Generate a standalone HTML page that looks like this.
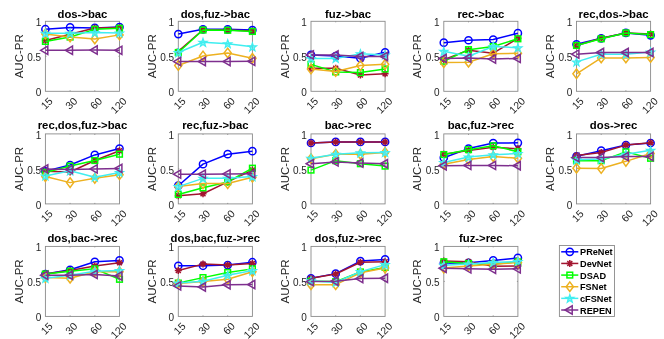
<!DOCTYPE html><html><head><meta charset="utf-8"><style>html,body{margin:0;padding:0;background:#fff;width:664px;height:339px;overflow:hidden}svg{display:block;will-change:transform}text{font-family:"Liberation Sans",sans-serif}</style></head><body><svg width="664" height="339" viewBox="0 0 664 339"><g><rect x="45.4" y="21.3" width="74.1" height="70" fill="none" stroke="#8a8a8a" stroke-width="0.9"/><path d="M70.1 91.3v-1M70.1 21.3v1M94.8 91.3v-1M94.8 21.3v1M45.4 56.3h1M119.5 56.3h-1" stroke="#8a8a8a" stroke-width="0.9"/><text x="82.45" y="17.9" font-size="11.3" font-weight="bold" text-anchor="middle" fill="#000">dos-&gt;bac</text><text transform="translate(22.9 56.3) rotate(-90)" font-size="11.5" text-anchor="middle" fill="#262626">AUC-PR</text><text x="41.2" y="96.2" font-size="10" text-anchor="end" fill="#262626">0</text><text x="41.2" y="61.2" font-size="10" text-anchor="end" fill="#262626">0.5</text><text x="41.2" y="26.2" font-size="10" text-anchor="end" fill="#262626">1</text><text transform="translate(53.4 101.8) rotate(-45)" font-size="10.5" text-anchor="end" fill="#262626">15</text><text transform="translate(78.1 101.8) rotate(-45)" font-size="10.5" text-anchor="end" fill="#262626">30</text><text transform="translate(102.8 101.8) rotate(-45)" font-size="10.5" text-anchor="end" fill="#262626">60</text><text transform="translate(127.5 101.8) rotate(-45)" font-size="10.5" text-anchor="end" fill="#262626">120</text><polyline points="45.4,29.21 70.1,27.39 94.8,27.88 119.5,27.11" fill="none" stroke="#0000ff" stroke-width="1.5" stroke-linejoin="round"/><circle cx="45.4" cy="29.21" r="3.6" fill="none" stroke="#0000ff" stroke-width="1.5"/><circle cx="70.1" cy="27.39" r="3.6" fill="none" stroke="#0000ff" stroke-width="1.5"/><circle cx="94.8" cy="27.88" r="3.6" fill="none" stroke="#0000ff" stroke-width="1.5"/><circle cx="119.5" cy="27.11" r="3.6" fill="none" stroke="#0000ff" stroke-width="1.5"/><polyline points="45.4,40.55 70.1,34.25 94.8,27.95 119.5,27.39" fill="none" stroke="#a2142f" stroke-width="1.5" stroke-linejoin="round"/><path d="M45.4 37.05V44.05M41.9 40.55H48.9M42.93 38.08L47.87 43.02M42.93 43.02L47.87 38.08" stroke="#a2142f" stroke-width="1.5" fill="none"/><path d="M70.1 30.75V37.75M66.6 34.25H73.6M67.63 31.78L72.57 36.72M67.63 36.72L72.57 31.78" stroke="#a2142f" stroke-width="1.5" fill="none"/><path d="M94.8 24.45V31.45M91.3 27.95H98.3M92.33 25.48L97.27 30.42M92.33 30.42L97.27 25.48" stroke="#a2142f" stroke-width="1.5" fill="none"/><path d="M119.5 23.89V30.89M116 27.39H123M117.03 24.92L121.97 29.86M117.03 29.86L121.97 24.92" stroke="#a2142f" stroke-width="1.5" fill="none"/><polyline points="45.4,41.39 70.1,37.05 94.8,29.35 119.5,28.3" fill="none" stroke="#00ff00" stroke-width="1.5" stroke-linejoin="round"/><rect x="42.55" y="38.54" width="5.7" height="5.7" fill="none" stroke="#00ff00" stroke-width="1.5"/><rect x="67.25" y="34.2" width="5.7" height="5.7" fill="none" stroke="#00ff00" stroke-width="1.5"/><rect x="91.95" y="26.5" width="5.7" height="5.7" fill="none" stroke="#00ff00" stroke-width="1.5"/><rect x="116.65" y="25.45" width="5.7" height="5.7" fill="none" stroke="#00ff00" stroke-width="1.5"/><polyline points="45.4,33.9 70.1,36.98 94.8,38.94 119.5,34.88" fill="none" stroke="#edb120" stroke-width="1.5" stroke-linejoin="round"/><path d="M45.4 29.1L49 33.9L45.4 38.7L41.8 33.9Z" fill="none" stroke="#edb120" stroke-width="1.5"/><path d="M70.1 32.18L73.7 36.98L70.1 41.78L66.5 36.98Z" fill="none" stroke="#edb120" stroke-width="1.5"/><path d="M94.8 34.14L98.4 38.94L94.8 43.74L91.2 38.94Z" fill="none" stroke="#edb120" stroke-width="1.5"/><path d="M119.5 30.08L123.1 34.88L119.5 39.68L115.9 34.88Z" fill="none" stroke="#edb120" stroke-width="1.5"/><polyline points="45.4,33.27 70.1,33.27 94.8,32.57 119.5,32.92" fill="none" stroke="#40eef0" stroke-width="1.5" stroke-linejoin="round"/><path d="M45.4 29.37L46.41 32.28L49.49 32.34L47.04 34.2L47.93 37.15L45.4 35.39L42.87 37.15L43.76 34.2L41.31 32.34L44.39 32.28Z" fill="#40eef0" fill-opacity="0.6" stroke="#40eef0" stroke-width="1.2" stroke-linejoin="miter"/><path d="M70.1 29.37L71.11 32.28L74.19 32.34L71.74 34.2L72.63 37.15L70.1 35.39L67.57 37.15L68.46 34.2L66.01 32.34L69.09 32.28Z" fill="#40eef0" fill-opacity="0.6" stroke="#40eef0" stroke-width="1.2" stroke-linejoin="miter"/><path d="M94.8 28.67L95.81 31.58L98.89 31.64L96.44 33.5L97.33 36.45L94.8 34.69L92.27 36.45L93.16 33.5L90.71 31.64L93.79 31.58Z" fill="#40eef0" fill-opacity="0.6" stroke="#40eef0" stroke-width="1.2" stroke-linejoin="miter"/><path d="M119.5 29.02L120.51 31.93L123.59 31.99L121.14 33.85L122.03 36.8L119.5 35.04L116.97 36.8L117.86 33.85L115.41 31.99L118.49 31.93Z" fill="#40eef0" fill-opacity="0.6" stroke="#40eef0" stroke-width="1.2" stroke-linejoin="miter"/><polyline points="45.4,50.28 70.1,50.28 94.8,50.07 119.5,50.35" fill="none" stroke="#7e2f8e" stroke-width="1.5" stroke-linejoin="round"/><path d="M40.6 50.28L47.8 46.12L47.8 54.44Z" fill="none" stroke="#7e2f8e" stroke-width="1.5"/><path d="M65.3 50.28L72.5 46.12L72.5 54.44Z" fill="none" stroke="#7e2f8e" stroke-width="1.5"/><path d="M90 50.07L97.2 45.91L97.2 54.23Z" fill="none" stroke="#7e2f8e" stroke-width="1.5"/><path d="M114.7 50.35L121.9 46.19L121.9 54.51Z" fill="none" stroke="#7e2f8e" stroke-width="1.5"/></g><g><rect x="178.3" y="21.3" width="74.1" height="70" fill="none" stroke="#8a8a8a" stroke-width="0.9"/><path d="M203 91.3v-1M203 21.3v1M227.7 91.3v-1M227.7 21.3v1M178.3 56.3h1M252.4 56.3h-1" stroke="#8a8a8a" stroke-width="0.9"/><text x="215.35" y="17.9" font-size="11.3" font-weight="bold" text-anchor="middle" fill="#000">dos,fuz-&gt;bac</text><text transform="translate(155.8 56.3) rotate(-90)" font-size="11.5" text-anchor="middle" fill="#262626">AUC-PR</text><text x="174.1" y="96.2" font-size="10" text-anchor="end" fill="#262626">0</text><text x="174.1" y="61.2" font-size="10" text-anchor="end" fill="#262626">0.5</text><text x="174.1" y="26.2" font-size="10" text-anchor="end" fill="#262626">1</text><text transform="translate(186.3 101.8) rotate(-45)" font-size="10.5" text-anchor="end" fill="#262626">15</text><text transform="translate(211 101.8) rotate(-45)" font-size="10.5" text-anchor="end" fill="#262626">30</text><text transform="translate(235.7 101.8) rotate(-45)" font-size="10.5" text-anchor="end" fill="#262626">60</text><text transform="translate(260.4 101.8) rotate(-45)" font-size="10.5" text-anchor="end" fill="#262626">120</text><polyline points="178.3,34.11 203,29.35 227.7,29.35 252.4,30.05" fill="none" stroke="#0000ff" stroke-width="1.5" stroke-linejoin="round"/><circle cx="178.3" cy="34.11" r="3.6" fill="none" stroke="#0000ff" stroke-width="1.5"/><circle cx="203" cy="29.35" r="3.6" fill="none" stroke="#0000ff" stroke-width="1.5"/><circle cx="227.7" cy="29.35" r="3.6" fill="none" stroke="#0000ff" stroke-width="1.5"/><circle cx="252.4" cy="30.05" r="3.6" fill="none" stroke="#0000ff" stroke-width="1.5"/><polyline points="178.3,51.4 203,29.7 227.7,30.05 252.4,30.96" fill="none" stroke="#a2142f" stroke-width="1.5" stroke-linejoin="round"/><path d="M178.3 47.9V54.9M174.8 51.4H181.8M175.83 48.93L180.77 53.87M175.83 53.87L180.77 48.93" stroke="#a2142f" stroke-width="1.5" fill="none"/><path d="M203 26.2V33.2M199.5 29.7H206.5M200.53 27.23L205.47 32.17M200.53 32.17L205.47 27.23" stroke="#a2142f" stroke-width="1.5" fill="none"/><path d="M227.7 26.55V33.55M224.2 30.05H231.2M225.23 27.58L230.17 32.52M225.23 32.52L230.17 27.58" stroke="#a2142f" stroke-width="1.5" fill="none"/><path d="M252.4 27.46V34.46M248.9 30.96H255.9M249.93 28.49L254.87 33.43M249.93 33.43L254.87 28.49" stroke="#a2142f" stroke-width="1.5" fill="none"/><polyline points="178.3,52.52 203,30.05 227.7,30.26 252.4,31.45" fill="none" stroke="#00ff00" stroke-width="1.5" stroke-linejoin="round"/><rect x="175.45" y="49.67" width="5.7" height="5.7" fill="none" stroke="#00ff00" stroke-width="1.5"/><rect x="200.15" y="27.2" width="5.7" height="5.7" fill="none" stroke="#00ff00" stroke-width="1.5"/><rect x="224.85" y="27.41" width="5.7" height="5.7" fill="none" stroke="#00ff00" stroke-width="1.5"/><rect x="249.55" y="28.6" width="5.7" height="5.7" fill="none" stroke="#00ff00" stroke-width="1.5"/><polyline points="178.3,65.54 203,55.95 227.7,52.94 252.4,58.26" fill="none" stroke="#edb120" stroke-width="1.5" stroke-linejoin="round"/><path d="M178.3 60.74L181.9 65.54L178.3 70.34L174.7 65.54Z" fill="none" stroke="#edb120" stroke-width="1.5"/><path d="M203 51.15L206.6 55.95L203 60.75L199.4 55.95Z" fill="none" stroke="#edb120" stroke-width="1.5"/><path d="M227.7 48.14L231.3 52.94L227.7 57.74L224.1 52.94Z" fill="none" stroke="#edb120" stroke-width="1.5"/><path d="M252.4 53.46L256 58.26L252.4 63.06L248.8 58.26Z" fill="none" stroke="#edb120" stroke-width="1.5"/><polyline points="178.3,52.52 203,42.3 227.7,43.7 252.4,46.85" fill="none" stroke="#40eef0" stroke-width="1.5" stroke-linejoin="round"/><path d="M178.3 48.62L179.31 51.53L182.39 51.59L179.94 53.45L180.83 56.4L178.3 54.64L175.77 56.4L176.66 53.45L174.21 51.59L177.29 51.53Z" fill="#40eef0" fill-opacity="0.6" stroke="#40eef0" stroke-width="1.2" stroke-linejoin="miter"/><path d="M203 38.4L204.01 41.31L207.09 41.37L204.64 43.23L205.53 46.18L203 44.42L200.47 46.18L201.36 43.23L198.91 41.37L201.99 41.31Z" fill="#40eef0" fill-opacity="0.6" stroke="#40eef0" stroke-width="1.2" stroke-linejoin="miter"/><path d="M227.7 39.8L228.71 42.71L231.79 42.77L229.34 44.63L230.23 47.58L227.7 45.82L225.17 47.58L226.06 44.63L223.61 42.77L226.69 42.71Z" fill="#40eef0" fill-opacity="0.6" stroke="#40eef0" stroke-width="1.2" stroke-linejoin="miter"/><path d="M252.4 42.95L253.41 45.86L256.49 45.92L254.04 47.78L254.93 50.73L252.4 48.97L249.87 50.73L250.76 47.78L248.31 45.92L251.39 45.86Z" fill="#40eef0" fill-opacity="0.6" stroke="#40eef0" stroke-width="1.2" stroke-linejoin="miter"/><polyline points="178.3,61.55 203,61.55 227.7,61.55 252.4,61.34" fill="none" stroke="#7e2f8e" stroke-width="1.5" stroke-linejoin="round"/><path d="M173.5 61.55L180.7 57.39L180.7 65.71Z" fill="none" stroke="#7e2f8e" stroke-width="1.5"/><path d="M198.2 61.55L205.4 57.39L205.4 65.71Z" fill="none" stroke="#7e2f8e" stroke-width="1.5"/><path d="M222.9 61.55L230.1 57.39L230.1 65.71Z" fill="none" stroke="#7e2f8e" stroke-width="1.5"/><path d="M247.6 61.34L254.8 57.18L254.8 65.5Z" fill="none" stroke="#7e2f8e" stroke-width="1.5"/></g><g><rect x="311" y="21.3" width="74.1" height="70" fill="none" stroke="#8a8a8a" stroke-width="0.9"/><path d="M335.7 91.3v-1M335.7 21.3v1M360.4 91.3v-1M360.4 21.3v1M311 56.3h1M385.1 56.3h-1" stroke="#8a8a8a" stroke-width="0.9"/><text x="348.05" y="17.9" font-size="11.3" font-weight="bold" text-anchor="middle" fill="#000">fuz-&gt;bac</text><text transform="translate(288.5 56.3) rotate(-90)" font-size="11.5" text-anchor="middle" fill="#262626">AUC-PR</text><text x="306.8" y="96.2" font-size="10" text-anchor="end" fill="#262626">0</text><text x="306.8" y="61.2" font-size="10" text-anchor="end" fill="#262626">0.5</text><text x="306.8" y="26.2" font-size="10" text-anchor="end" fill="#262626">1</text><text transform="translate(319 101.8) rotate(-45)" font-size="10.5" text-anchor="end" fill="#262626">15</text><text transform="translate(343.7 101.8) rotate(-45)" font-size="10.5" text-anchor="end" fill="#262626">30</text><text transform="translate(368.4 101.8) rotate(-45)" font-size="10.5" text-anchor="end" fill="#262626">60</text><text transform="translate(393.1 101.8) rotate(-45)" font-size="10.5" text-anchor="end" fill="#262626">120</text><polyline points="311,54.9 335.7,56.09 360.4,58.19 385.1,52.31" fill="none" stroke="#0000ff" stroke-width="1.5" stroke-linejoin="round"/><circle cx="311" cy="54.9" r="3.6" fill="none" stroke="#0000ff" stroke-width="1.5"/><circle cx="335.7" cy="56.09" r="3.6" fill="none" stroke="#0000ff" stroke-width="1.5"/><circle cx="360.4" cy="58.19" r="3.6" fill="none" stroke="#0000ff" stroke-width="1.5"/><circle cx="385.1" cy="52.31" r="3.6" fill="none" stroke="#0000ff" stroke-width="1.5"/><polyline points="311,68.2 335.7,68.2 360.4,75.06 385.1,73.73" fill="none" stroke="#a2142f" stroke-width="1.5" stroke-linejoin="round"/><path d="M311 64.7V71.7M307.5 68.2H314.5M308.53 65.73L313.47 70.67M308.53 70.67L313.47 65.73" stroke="#a2142f" stroke-width="1.5" fill="none"/><path d="M335.7 64.7V71.7M332.2 68.2H339.2M333.23 65.73L338.17 70.67M333.23 70.67L338.17 65.73" stroke="#a2142f" stroke-width="1.5" fill="none"/><path d="M360.4 71.56V78.56M356.9 75.06H363.9M357.93 72.59L362.87 77.53M357.93 77.53L362.87 72.59" stroke="#a2142f" stroke-width="1.5" fill="none"/><path d="M385.1 70.23V77.23M381.6 73.73H388.6M382.63 71.26L387.57 76.2M382.63 76.2L387.57 71.26" stroke="#a2142f" stroke-width="1.5" fill="none"/><polyline points="311,64.35 335.7,71.91 360.4,72.61 385.1,69.04" fill="none" stroke="#00ff00" stroke-width="1.5" stroke-linejoin="round"/><rect x="308.15" y="61.5" width="5.7" height="5.7" fill="none" stroke="#00ff00" stroke-width="1.5"/><rect x="332.85" y="69.06" width="5.7" height="5.7" fill="none" stroke="#00ff00" stroke-width="1.5"/><rect x="357.55" y="69.76" width="5.7" height="5.7" fill="none" stroke="#00ff00" stroke-width="1.5"/><rect x="382.25" y="66.19" width="5.7" height="5.7" fill="none" stroke="#00ff00" stroke-width="1.5"/><polyline points="311,69.04 335.7,71.42 360.4,65.54 385.1,64.35" fill="none" stroke="#edb120" stroke-width="1.5" stroke-linejoin="round"/><path d="M311 64.24L314.6 69.04L311 73.84L307.4 69.04Z" fill="none" stroke="#edb120" stroke-width="1.5"/><path d="M335.7 66.62L339.3 71.42L335.7 76.22L332.1 71.42Z" fill="none" stroke="#edb120" stroke-width="1.5"/><path d="M360.4 60.74L364 65.54L360.4 70.34L356.8 65.54Z" fill="none" stroke="#edb120" stroke-width="1.5"/><path d="M385.1 59.55L388.7 64.35L385.1 69.15L381.5 64.35Z" fill="none" stroke="#edb120" stroke-width="1.5"/><polyline points="311,58.4 335.7,58.4 360.4,53.71 385.1,54.9" fill="none" stroke="#40eef0" stroke-width="1.5" stroke-linejoin="round"/><path d="M311 54.5L312.01 57.41L315.09 57.47L312.64 59.33L313.53 62.28L311 60.52L308.47 62.28L309.36 59.33L306.91 57.47L309.99 57.41Z" fill="#40eef0" fill-opacity="0.6" stroke="#40eef0" stroke-width="1.2" stroke-linejoin="miter"/><path d="M335.7 54.5L336.71 57.41L339.79 57.47L337.34 59.33L338.23 62.28L335.7 60.52L333.17 62.28L334.06 59.33L331.61 57.47L334.69 57.41Z" fill="#40eef0" fill-opacity="0.6" stroke="#40eef0" stroke-width="1.2" stroke-linejoin="miter"/><path d="M360.4 49.81L361.41 52.72L364.49 52.78L362.04 54.64L362.93 57.59L360.4 55.83L357.87 57.59L358.76 54.64L356.31 52.78L359.39 52.72Z" fill="#40eef0" fill-opacity="0.6" stroke="#40eef0" stroke-width="1.2" stroke-linejoin="miter"/><path d="M385.1 51L386.11 53.91L389.19 53.97L386.74 55.83L387.63 58.78L385.1 57.02L382.57 58.78L383.46 55.83L381.01 53.97L384.09 53.91Z" fill="#40eef0" fill-opacity="0.6" stroke="#40eef0" stroke-width="1.2" stroke-linejoin="miter"/><polyline points="311,54.9 335.7,54.9 360.4,56.51 385.1,56.51" fill="none" stroke="#7e2f8e" stroke-width="1.5" stroke-linejoin="round"/><path d="M306.2 54.9L313.4 50.74L313.4 59.06Z" fill="none" stroke="#7e2f8e" stroke-width="1.5"/><path d="M330.9 54.9L338.1 50.74L338.1 59.06Z" fill="none" stroke="#7e2f8e" stroke-width="1.5"/><path d="M355.6 56.51L362.8 52.35L362.8 60.67Z" fill="none" stroke="#7e2f8e" stroke-width="1.5"/><path d="M380.3 56.51L387.5 52.35L387.5 60.67Z" fill="none" stroke="#7e2f8e" stroke-width="1.5"/></g><g><rect x="443.8" y="21.3" width="74.1" height="70" fill="none" stroke="#8a8a8a" stroke-width="0.9"/><path d="M468.5 91.3v-1M468.5 21.3v1M493.2 91.3v-1M493.2 21.3v1M443.8 56.3h1M517.9 56.3h-1" stroke="#8a8a8a" stroke-width="0.9"/><text x="480.85" y="17.9" font-size="11.3" font-weight="bold" text-anchor="middle" fill="#000">rec-&gt;bac</text><text transform="translate(421.3 56.3) rotate(-90)" font-size="11.5" text-anchor="middle" fill="#262626">AUC-PR</text><text x="439.6" y="96.2" font-size="10" text-anchor="end" fill="#262626">0</text><text x="439.6" y="61.2" font-size="10" text-anchor="end" fill="#262626">0.5</text><text x="439.6" y="26.2" font-size="10" text-anchor="end" fill="#262626">1</text><text transform="translate(451.8 101.8) rotate(-45)" font-size="10.5" text-anchor="end" fill="#262626">15</text><text transform="translate(476.5 101.8) rotate(-45)" font-size="10.5" text-anchor="end" fill="#262626">30</text><text transform="translate(501.2 101.8) rotate(-45)" font-size="10.5" text-anchor="end" fill="#262626">60</text><text transform="translate(525.9 101.8) rotate(-45)" font-size="10.5" text-anchor="end" fill="#262626">120</text><polyline points="443.8,42.65 468.5,40.27 493.2,39.57 517.9,33.2" fill="none" stroke="#0000ff" stroke-width="1.5" stroke-linejoin="round"/><circle cx="443.8" cy="42.65" r="3.6" fill="none" stroke="#0000ff" stroke-width="1.5"/><circle cx="468.5" cy="40.27" r="3.6" fill="none" stroke="#0000ff" stroke-width="1.5"/><circle cx="493.2" cy="39.57" r="3.6" fill="none" stroke="#0000ff" stroke-width="1.5"/><circle cx="517.9" cy="33.2" r="3.6" fill="none" stroke="#0000ff" stroke-width="1.5"/><polyline points="443.8,59.8 468.5,50.14 493.2,53.22 517.9,38.31" fill="none" stroke="#a2142f" stroke-width="1.5" stroke-linejoin="round"/><path d="M443.8 56.3V63.3M440.3 59.8H447.3M441.33 57.33L446.27 62.27M441.33 62.27L446.27 57.33" stroke="#a2142f" stroke-width="1.5" fill="none"/><path d="M468.5 46.64V53.64M465 50.14H472M466.03 47.67L470.97 52.61M466.03 52.61L470.97 47.67" stroke="#a2142f" stroke-width="1.5" fill="none"/><path d="M493.2 49.72V56.72M489.7 53.22H496.7M490.73 50.75L495.67 55.69M490.73 55.69L495.67 50.75" stroke="#a2142f" stroke-width="1.5" fill="none"/><path d="M517.9 34.81V41.81M514.4 38.31H521.4M515.43 35.84L520.37 40.78M515.43 40.78L520.37 35.84" stroke="#a2142f" stroke-width="1.5" fill="none"/><polyline points="443.8,61.2 468.5,49.65 493.2,46.5 517.9,38.8" fill="none" stroke="#00ff00" stroke-width="1.5" stroke-linejoin="round"/><rect x="440.95" y="58.35" width="5.7" height="5.7" fill="none" stroke="#00ff00" stroke-width="1.5"/><rect x="465.65" y="46.8" width="5.7" height="5.7" fill="none" stroke="#00ff00" stroke-width="1.5"/><rect x="490.35" y="43.65" width="5.7" height="5.7" fill="none" stroke="#00ff00" stroke-width="1.5"/><rect x="515.05" y="35.95" width="5.7" height="5.7" fill="none" stroke="#00ff00" stroke-width="1.5"/><polyline points="443.8,62.6 468.5,62.25 493.2,53.71 517.9,53.22" fill="none" stroke="#edb120" stroke-width="1.5" stroke-linejoin="round"/><path d="M443.8 57.8L447.4 62.6L443.8 67.4L440.2 62.6Z" fill="none" stroke="#edb120" stroke-width="1.5"/><path d="M468.5 57.45L472.1 62.25L468.5 67.05L464.9 62.25Z" fill="none" stroke="#edb120" stroke-width="1.5"/><path d="M493.2 48.91L496.8 53.71L493.2 58.51L489.6 53.71Z" fill="none" stroke="#edb120" stroke-width="1.5"/><path d="M517.9 48.42L521.5 53.22L517.9 58.02L514.3 53.22Z" fill="none" stroke="#edb120" stroke-width="1.5"/><polyline points="443.8,51.33 468.5,56.3 493.2,46.5 517.9,47.76" fill="none" stroke="#40eef0" stroke-width="1.5" stroke-linejoin="round"/><path d="M443.8 47.43L444.81 50.34L447.89 50.4L445.44 52.26L446.33 55.21L443.8 53.45L441.27 55.21L442.16 52.26L439.71 50.4L442.79 50.34Z" fill="#40eef0" fill-opacity="0.6" stroke="#40eef0" stroke-width="1.2" stroke-linejoin="miter"/><path d="M468.5 52.4L469.51 55.31L472.59 55.37L470.14 57.23L471.03 60.18L468.5 58.42L465.97 60.18L466.86 57.23L464.41 55.37L467.49 55.31Z" fill="#40eef0" fill-opacity="0.6" stroke="#40eef0" stroke-width="1.2" stroke-linejoin="miter"/><path d="M493.2 42.6L494.21 45.51L497.29 45.57L494.84 47.43L495.73 50.38L493.2 48.62L490.67 50.38L491.56 47.43L489.11 45.57L492.19 45.51Z" fill="#40eef0" fill-opacity="0.6" stroke="#40eef0" stroke-width="1.2" stroke-linejoin="miter"/><path d="M517.9 43.86L518.91 46.77L521.99 46.83L519.54 48.69L520.43 51.64L517.9 49.88L515.37 51.64L516.26 48.69L513.81 46.83L516.89 46.77Z" fill="#40eef0" fill-opacity="0.6" stroke="#40eef0" stroke-width="1.2" stroke-linejoin="miter"/><polyline points="443.8,58.4 468.5,57.98 493.2,59.1 517.9,58.4" fill="none" stroke="#7e2f8e" stroke-width="1.5" stroke-linejoin="round"/><path d="M439 58.4L446.2 54.24L446.2 62.56Z" fill="none" stroke="#7e2f8e" stroke-width="1.5"/><path d="M463.7 57.98L470.9 53.82L470.9 62.14Z" fill="none" stroke="#7e2f8e" stroke-width="1.5"/><path d="M488.4 59.1L495.6 54.94L495.6 63.26Z" fill="none" stroke="#7e2f8e" stroke-width="1.5"/><path d="M513.1 58.4L520.3 54.24L520.3 62.56Z" fill="none" stroke="#7e2f8e" stroke-width="1.5"/></g><g><rect x="576.5" y="21.3" width="74.1" height="70" fill="none" stroke="#8a8a8a" stroke-width="0.9"/><path d="M601.2 91.3v-1M601.2 21.3v1M625.9 91.3v-1M625.9 21.3v1M576.5 56.3h1M650.6 56.3h-1" stroke="#8a8a8a" stroke-width="0.9"/><text x="613.55" y="17.9" font-size="11.3" font-weight="bold" text-anchor="middle" fill="#000">rec,dos-&gt;bac</text><text transform="translate(554 56.3) rotate(-90)" font-size="11.5" text-anchor="middle" fill="#262626">AUC-PR</text><text x="572.3" y="96.2" font-size="10" text-anchor="end" fill="#262626">0</text><text x="572.3" y="61.2" font-size="10" text-anchor="end" fill="#262626">0.5</text><text x="572.3" y="26.2" font-size="10" text-anchor="end" fill="#262626">1</text><text transform="translate(584.5 101.8) rotate(-45)" font-size="10.5" text-anchor="end" fill="#262626">15</text><text transform="translate(609.2 101.8) rotate(-45)" font-size="10.5" text-anchor="end" fill="#262626">30</text><text transform="translate(633.9 101.8) rotate(-45)" font-size="10.5" text-anchor="end" fill="#262626">60</text><text transform="translate(658.6 101.8) rotate(-45)" font-size="10.5" text-anchor="end" fill="#262626">120</text><polyline points="576.5,44.26 601.2,38.31 625.9,32.92 650.6,35.3" fill="none" stroke="#0000ff" stroke-width="1.5" stroke-linejoin="round"/><circle cx="576.5" cy="44.26" r="3.6" fill="none" stroke="#0000ff" stroke-width="1.5"/><circle cx="601.2" cy="38.31" r="3.6" fill="none" stroke="#0000ff" stroke-width="1.5"/><circle cx="625.9" cy="32.92" r="3.6" fill="none" stroke="#0000ff" stroke-width="1.5"/><circle cx="650.6" cy="35.3" r="3.6" fill="none" stroke="#0000ff" stroke-width="1.5"/><polyline points="576.5,45.45 601.2,38.31 625.9,32.92 650.6,33.9" fill="none" stroke="#a2142f" stroke-width="1.5" stroke-linejoin="round"/><path d="M576.5 41.95V48.95M573 45.45H580M574.03 42.98L578.97 47.92M574.03 47.92L578.97 42.98" stroke="#a2142f" stroke-width="1.5" fill="none"/><path d="M601.2 34.81V41.81M597.7 38.31H604.7M598.73 35.84L603.67 40.78M598.73 40.78L603.67 35.84" stroke="#a2142f" stroke-width="1.5" fill="none"/><path d="M625.9 29.42V36.42M622.4 32.92H629.4M623.43 30.45L628.37 35.39M623.43 35.39L628.37 30.45" stroke="#a2142f" stroke-width="1.5" fill="none"/><path d="M650.6 30.4V37.4M647.1 33.9H654.1M648.13 31.43L653.07 36.37M648.13 36.37L653.07 31.43" stroke="#a2142f" stroke-width="1.5" fill="none"/><polyline points="576.5,45.45 601.2,38.8 625.9,32.92 650.6,34.6" fill="none" stroke="#00ff00" stroke-width="1.5" stroke-linejoin="round"/><rect x="573.65" y="42.6" width="5.7" height="5.7" fill="none" stroke="#00ff00" stroke-width="1.5"/><rect x="598.35" y="35.95" width="5.7" height="5.7" fill="none" stroke="#00ff00" stroke-width="1.5"/><rect x="623.05" y="30.07" width="5.7" height="5.7" fill="none" stroke="#00ff00" stroke-width="1.5"/><rect x="647.75" y="31.75" width="5.7" height="5.7" fill="none" stroke="#00ff00" stroke-width="1.5"/><polyline points="576.5,73.8 601.2,57.98 625.9,57.98 650.6,57.42" fill="none" stroke="#edb120" stroke-width="1.5" stroke-linejoin="round"/><path d="M576.5 69L580.1 73.8L576.5 78.6L572.9 73.8Z" fill="none" stroke="#edb120" stroke-width="1.5"/><path d="M601.2 53.18L604.8 57.98L601.2 62.78L597.6 57.98Z" fill="none" stroke="#edb120" stroke-width="1.5"/><path d="M625.9 53.18L629.5 57.98L625.9 62.78L622.3 57.98Z" fill="none" stroke="#edb120" stroke-width="1.5"/><path d="M650.6 52.62L654.2 57.42L650.6 62.22L647 57.42Z" fill="none" stroke="#edb120" stroke-width="1.5"/><polyline points="576.5,61.9 601.2,54.2 625.9,54.2 650.6,52.1" fill="none" stroke="#40eef0" stroke-width="1.5" stroke-linejoin="round"/><path d="M576.5 58L577.51 60.91L580.59 60.97L578.14 62.83L579.03 65.78L576.5 64.02L573.97 65.78L574.86 62.83L572.41 60.97L575.49 60.91Z" fill="#40eef0" fill-opacity="0.6" stroke="#40eef0" stroke-width="1.2" stroke-linejoin="miter"/><path d="M601.2 50.3L602.21 53.21L605.29 53.27L602.84 55.13L603.73 58.08L601.2 56.32L598.67 58.08L599.56 55.13L597.11 53.27L600.19 53.21Z" fill="#40eef0" fill-opacity="0.6" stroke="#40eef0" stroke-width="1.2" stroke-linejoin="miter"/><path d="M625.9 50.3L626.91 53.21L629.99 53.27L627.54 55.13L628.43 58.08L625.9 56.32L623.37 58.08L624.26 55.13L621.81 53.27L624.89 53.21Z" fill="#40eef0" fill-opacity="0.6" stroke="#40eef0" stroke-width="1.2" stroke-linejoin="miter"/><path d="M650.6 48.2L651.61 51.11L654.69 51.17L652.24 53.03L653.13 55.98L650.6 54.22L648.07 55.98L648.96 53.03L646.51 51.17L649.59 51.11Z" fill="#40eef0" fill-opacity="0.6" stroke="#40eef0" stroke-width="1.2" stroke-linejoin="miter"/><polyline points="576.5,54.13 601.2,52.52 625.9,52.52 650.6,52.52" fill="none" stroke="#7e2f8e" stroke-width="1.5" stroke-linejoin="round"/><path d="M571.7 54.13L578.9 49.97L578.9 58.29Z" fill="none" stroke="#7e2f8e" stroke-width="1.5"/><path d="M596.4 52.52L603.6 48.36L603.6 56.68Z" fill="none" stroke="#7e2f8e" stroke-width="1.5"/><path d="M621.1 52.52L628.3 48.36L628.3 56.68Z" fill="none" stroke="#7e2f8e" stroke-width="1.5"/><path d="M645.8 52.52L653 48.36L653 56.68Z" fill="none" stroke="#7e2f8e" stroke-width="1.5"/></g><g><rect x="45.4" y="133.9" width="74.1" height="70" fill="none" stroke="#8a8a8a" stroke-width="0.9"/><path d="M70.1 203.9v-1M70.1 133.9v1M94.8 203.9v-1M94.8 133.9v1M45.4 168.9h1M119.5 168.9h-1" stroke="#8a8a8a" stroke-width="0.9"/><text x="82.45" y="129.4" font-size="11.3" font-weight="bold" text-anchor="middle" fill="#000">rec,dos,fuz-&gt;bac</text><text transform="translate(22.9 168.9) rotate(-90)" font-size="11.5" text-anchor="middle" fill="#262626">AUC-PR</text><text x="41.2" y="208.8" font-size="10" text-anchor="end" fill="#262626">0</text><text x="41.2" y="173.8" font-size="10" text-anchor="end" fill="#262626">0.5</text><text x="41.2" y="138.8" font-size="10" text-anchor="end" fill="#262626">1</text><text transform="translate(53.4 214.4) rotate(-45)" font-size="10.5" text-anchor="end" fill="#262626">15</text><text transform="translate(78.1 214.4) rotate(-45)" font-size="10.5" text-anchor="end" fill="#262626">30</text><text transform="translate(102.8 214.4) rotate(-45)" font-size="10.5" text-anchor="end" fill="#262626">60</text><text transform="translate(127.5 214.4) rotate(-45)" font-size="10.5" text-anchor="end" fill="#262626">120</text><polyline points="45.4,171.28 70.1,164.98 94.8,154.9 119.5,148.6" fill="none" stroke="#0000ff" stroke-width="1.5" stroke-linejoin="round"/><circle cx="45.4" cy="171.28" r="3.6" fill="none" stroke="#0000ff" stroke-width="1.5"/><circle cx="70.1" cy="164.98" r="3.6" fill="none" stroke="#0000ff" stroke-width="1.5"/><circle cx="94.8" cy="154.9" r="3.6" fill="none" stroke="#0000ff" stroke-width="1.5"/><circle cx="119.5" cy="148.6" r="3.6" fill="none" stroke="#0000ff" stroke-width="1.5"/><polyline points="45.4,171.28 70.1,171.98 94.8,160.5 119.5,150.7" fill="none" stroke="#a2142f" stroke-width="1.5" stroke-linejoin="round"/><path d="M45.4 167.78V174.78M41.9 171.28H48.9M42.93 168.81L47.87 173.75M42.93 173.75L47.87 168.81" stroke="#a2142f" stroke-width="1.5" fill="none"/><path d="M70.1 168.48V175.48M66.6 171.98H73.6M67.63 169.51L72.57 174.45M67.63 174.45L72.57 169.51" stroke="#a2142f" stroke-width="1.5" fill="none"/><path d="M94.8 157V164M91.3 160.5H98.3M92.33 158.03L97.27 162.97M92.33 162.97L97.27 158.03" stroke="#a2142f" stroke-width="1.5" fill="none"/><path d="M119.5 147.2V154.2M116 150.7H123M117.03 148.23L121.97 153.17M117.03 153.17L121.97 148.23" stroke="#a2142f" stroke-width="1.5" fill="none"/><polyline points="45.4,172.4 70.1,166.1 94.8,160.5 119.5,154.2" fill="none" stroke="#00ff00" stroke-width="1.5" stroke-linejoin="round"/><rect x="42.55" y="169.55" width="5.7" height="5.7" fill="none" stroke="#00ff00" stroke-width="1.5"/><rect x="67.25" y="163.25" width="5.7" height="5.7" fill="none" stroke="#00ff00" stroke-width="1.5"/><rect x="91.95" y="157.65" width="5.7" height="5.7" fill="none" stroke="#00ff00" stroke-width="1.5"/><rect x="116.65" y="151.35" width="5.7" height="5.7" fill="none" stroke="#00ff00" stroke-width="1.5"/><polyline points="45.4,176.6 70.1,182.62 94.8,178.35 119.5,174.78" fill="none" stroke="#edb120" stroke-width="1.5" stroke-linejoin="round"/><path d="M45.4 171.8L49 176.6L45.4 181.4L41.8 176.6Z" fill="none" stroke="#edb120" stroke-width="1.5"/><path d="M70.1 177.82L73.7 182.62L70.1 187.42L66.5 182.62Z" fill="none" stroke="#edb120" stroke-width="1.5"/><path d="M94.8 173.55L98.4 178.35L94.8 183.15L91.2 178.35Z" fill="none" stroke="#edb120" stroke-width="1.5"/><path d="M119.5 169.98L123.1 174.78L119.5 179.58L115.9 174.78Z" fill="none" stroke="#edb120" stroke-width="1.5"/><polyline points="45.4,175.9 70.1,170.79 94.8,177.16 119.5,172.4" fill="none" stroke="#40eef0" stroke-width="1.5" stroke-linejoin="round"/><path d="M45.4 172L46.41 174.91L49.49 174.97L47.04 176.83L47.93 179.78L45.4 178.02L42.87 179.78L43.76 176.83L41.31 174.97L44.39 174.91Z" fill="#40eef0" fill-opacity="0.6" stroke="#40eef0" stroke-width="1.2" stroke-linejoin="miter"/><path d="M70.1 166.89L71.11 169.8L74.19 169.86L71.74 171.72L72.63 174.67L70.1 172.91L67.57 174.67L68.46 171.72L66.01 169.86L69.09 169.8Z" fill="#40eef0" fill-opacity="0.6" stroke="#40eef0" stroke-width="1.2" stroke-linejoin="miter"/><path d="M94.8 173.26L95.81 176.17L98.89 176.23L96.44 178.09L97.33 181.04L94.8 179.28L92.27 181.04L93.16 178.09L90.71 176.23L93.79 176.17Z" fill="#40eef0" fill-opacity="0.6" stroke="#40eef0" stroke-width="1.2" stroke-linejoin="miter"/><path d="M119.5 168.5L120.51 171.41L123.59 171.47L121.14 173.33L122.03 176.28L119.5 174.52L116.97 176.28L117.86 173.33L115.41 171.47L118.49 171.41Z" fill="#40eef0" fill-opacity="0.6" stroke="#40eef0" stroke-width="1.2" stroke-linejoin="miter"/><polyline points="45.4,168.9 70.1,169.39 94.8,168.9 119.5,168.41" fill="none" stroke="#7e2f8e" stroke-width="1.5" stroke-linejoin="round"/><path d="M40.6 168.9L47.8 164.74L47.8 173.06Z" fill="none" stroke="#7e2f8e" stroke-width="1.5"/><path d="M65.3 169.39L72.5 165.23L72.5 173.55Z" fill="none" stroke="#7e2f8e" stroke-width="1.5"/><path d="M90 168.9L97.2 164.74L97.2 173.06Z" fill="none" stroke="#7e2f8e" stroke-width="1.5"/><path d="M114.7 168.41L121.9 164.25L121.9 172.57Z" fill="none" stroke="#7e2f8e" stroke-width="1.5"/></g><g><rect x="178.3" y="133.9" width="74.1" height="70" fill="none" stroke="#8a8a8a" stroke-width="0.9"/><path d="M203 203.9v-1M203 133.9v1M227.7 203.9v-1M227.7 133.9v1M178.3 168.9h1M252.4 168.9h-1" stroke="#8a8a8a" stroke-width="0.9"/><text x="215.35" y="129.4" font-size="11.3" font-weight="bold" text-anchor="middle" fill="#000">rec,fuz-&gt;bac</text><text transform="translate(155.8 168.9) rotate(-90)" font-size="11.5" text-anchor="middle" fill="#262626">AUC-PR</text><text x="174.1" y="208.8" font-size="10" text-anchor="end" fill="#262626">0</text><text x="174.1" y="173.8" font-size="10" text-anchor="end" fill="#262626">0.5</text><text x="174.1" y="138.8" font-size="10" text-anchor="end" fill="#262626">1</text><text transform="translate(186.3 214.4) rotate(-45)" font-size="10.5" text-anchor="end" fill="#262626">15</text><text transform="translate(211 214.4) rotate(-45)" font-size="10.5" text-anchor="end" fill="#262626">30</text><text transform="translate(235.7 214.4) rotate(-45)" font-size="10.5" text-anchor="end" fill="#262626">60</text><text transform="translate(260.4 214.4) rotate(-45)" font-size="10.5" text-anchor="end" fill="#262626">120</text><polyline points="178.3,185.7 203,164.14 227.7,154.2 252.4,151.19" fill="none" stroke="#0000ff" stroke-width="1.5" stroke-linejoin="round"/><circle cx="178.3" cy="185.7" r="3.6" fill="none" stroke="#0000ff" stroke-width="1.5"/><circle cx="203" cy="164.14" r="3.6" fill="none" stroke="#0000ff" stroke-width="1.5"/><circle cx="227.7" cy="154.2" r="3.6" fill="none" stroke="#0000ff" stroke-width="1.5"/><circle cx="252.4" cy="151.19" r="3.6" fill="none" stroke="#0000ff" stroke-width="1.5"/><polyline points="178.3,195.64 203,193.75 227.7,181.92 252.4,170.09" fill="none" stroke="#a2142f" stroke-width="1.5" stroke-linejoin="round"/><path d="M178.3 192.14V199.14M174.8 195.64H181.8M175.83 193.17L180.77 198.11M175.83 198.11L180.77 193.17" stroke="#a2142f" stroke-width="1.5" fill="none"/><path d="M203 190.25V197.25M199.5 193.75H206.5M200.53 191.28L205.47 196.22M200.53 196.22L205.47 191.28" stroke="#a2142f" stroke-width="1.5" fill="none"/><path d="M227.7 178.42V185.42M224.2 181.92H231.2M225.23 179.45L230.17 184.39M225.23 184.39L230.17 179.45" stroke="#a2142f" stroke-width="1.5" fill="none"/><path d="M252.4 166.59V173.59M248.9 170.09H255.9M249.93 167.62L254.87 172.56M249.93 172.56L254.87 167.62" stroke="#a2142f" stroke-width="1.5" fill="none"/><polyline points="178.3,194.45 203,187.8 227.7,181.92 252.4,168.2" fill="none" stroke="#00ff00" stroke-width="1.5" stroke-linejoin="round"/><rect x="175.45" y="191.6" width="5.7" height="5.7" fill="none" stroke="#00ff00" stroke-width="1.5"/><rect x="200.15" y="184.95" width="5.7" height="5.7" fill="none" stroke="#00ff00" stroke-width="1.5"/><rect x="224.85" y="179.07" width="5.7" height="5.7" fill="none" stroke="#00ff00" stroke-width="1.5"/><rect x="249.55" y="165.35" width="5.7" height="5.7" fill="none" stroke="#00ff00" stroke-width="1.5"/><polyline points="178.3,186.61 203,183.6 227.7,183.6 252.4,177.3" fill="none" stroke="#edb120" stroke-width="1.5" stroke-linejoin="round"/><path d="M178.3 181.81L181.9 186.61L178.3 191.41L174.7 186.61Z" fill="none" stroke="#edb120" stroke-width="1.5"/><path d="M203 178.8L206.6 183.6L203 188.4L199.4 183.6Z" fill="none" stroke="#edb120" stroke-width="1.5"/><path d="M227.7 178.8L231.3 183.6L227.7 188.4L224.1 183.6Z" fill="none" stroke="#edb120" stroke-width="1.5"/><path d="M252.4 172.5L256 177.3L252.4 182.1L248.8 177.3Z" fill="none" stroke="#edb120" stroke-width="1.5"/><polyline points="178.3,186.61 203,178.35 227.7,178.35 252.4,176.6" fill="none" stroke="#40eef0" stroke-width="1.5" stroke-linejoin="round"/><path d="M178.3 182.71L179.31 185.62L182.39 185.68L179.94 187.54L180.83 190.49L178.3 188.73L175.77 190.49L176.66 187.54L174.21 185.68L177.29 185.62Z" fill="#40eef0" fill-opacity="0.6" stroke="#40eef0" stroke-width="1.2" stroke-linejoin="miter"/><path d="M203 174.45L204.01 177.36L207.09 177.42L204.64 179.28L205.53 182.23L203 180.47L200.47 182.23L201.36 179.28L198.91 177.42L201.99 177.36Z" fill="#40eef0" fill-opacity="0.6" stroke="#40eef0" stroke-width="1.2" stroke-linejoin="miter"/><path d="M227.7 174.45L228.71 177.36L231.79 177.42L229.34 179.28L230.23 182.23L227.7 180.47L225.17 182.23L226.06 179.28L223.61 177.42L226.69 177.36Z" fill="#40eef0" fill-opacity="0.6" stroke="#40eef0" stroke-width="1.2" stroke-linejoin="miter"/><path d="M252.4 172.7L253.41 175.61L256.49 175.67L254.04 177.53L254.93 180.48L252.4 178.72L249.87 180.48L250.76 177.53L248.31 175.67L251.39 175.61Z" fill="#40eef0" fill-opacity="0.6" stroke="#40eef0" stroke-width="1.2" stroke-linejoin="miter"/><polyline points="178.3,174.15 203,174.15 227.7,173.94 252.4,173.8" fill="none" stroke="#7e2f8e" stroke-width="1.5" stroke-linejoin="round"/><path d="M173.5 174.15L180.7 169.99L180.7 178.31Z" fill="none" stroke="#7e2f8e" stroke-width="1.5"/><path d="M198.2 174.15L205.4 169.99L205.4 178.31Z" fill="none" stroke="#7e2f8e" stroke-width="1.5"/><path d="M222.9 173.94L230.1 169.78L230.1 178.1Z" fill="none" stroke="#7e2f8e" stroke-width="1.5"/><path d="M247.6 173.8L254.8 169.64L254.8 177.96Z" fill="none" stroke="#7e2f8e" stroke-width="1.5"/></g><g><rect x="311" y="133.9" width="74.1" height="70" fill="none" stroke="#8a8a8a" stroke-width="0.9"/><path d="M335.7 203.9v-1M335.7 133.9v1M360.4 203.9v-1M360.4 133.9v1M311 168.9h1M385.1 168.9h-1" stroke="#8a8a8a" stroke-width="0.9"/><text x="348.05" y="129.4" font-size="11.3" font-weight="bold" text-anchor="middle" fill="#000">bac-&gt;rec</text><text transform="translate(288.5 168.9) rotate(-90)" font-size="11.5" text-anchor="middle" fill="#262626">AUC-PR</text><text x="306.8" y="208.8" font-size="10" text-anchor="end" fill="#262626">0</text><text x="306.8" y="173.8" font-size="10" text-anchor="end" fill="#262626">0.5</text><text x="306.8" y="138.8" font-size="10" text-anchor="end" fill="#262626">1</text><text transform="translate(319 214.4) rotate(-45)" font-size="10.5" text-anchor="end" fill="#262626">15</text><text transform="translate(343.7 214.4) rotate(-45)" font-size="10.5" text-anchor="end" fill="#262626">30</text><text transform="translate(368.4 214.4) rotate(-45)" font-size="10.5" text-anchor="end" fill="#262626">60</text><text transform="translate(393.1 214.4) rotate(-45)" font-size="10.5" text-anchor="end" fill="#262626">120</text><polyline points="311,143 335.7,141.95 360.4,141.95 385.1,141.95" fill="none" stroke="#0000ff" stroke-width="1.5" stroke-linejoin="round"/><circle cx="311" cy="143" r="3.6" fill="none" stroke="#0000ff" stroke-width="1.5"/><circle cx="335.7" cy="141.95" r="3.6" fill="none" stroke="#0000ff" stroke-width="1.5"/><circle cx="360.4" cy="141.95" r="3.6" fill="none" stroke="#0000ff" stroke-width="1.5"/><circle cx="385.1" cy="141.95" r="3.6" fill="none" stroke="#0000ff" stroke-width="1.5"/><polyline points="311,143 335.7,141.95 360.4,141.95 385.1,141.95" fill="none" stroke="#a2142f" stroke-width="1.5" stroke-linejoin="round"/><path d="M311 139.5V146.5M307.5 143H314.5M308.53 140.53L313.47 145.47M308.53 145.47L313.47 140.53" stroke="#a2142f" stroke-width="1.5" fill="none"/><path d="M335.7 138.45V145.45M332.2 141.95H339.2M333.23 139.48L338.17 144.42M333.23 144.42L338.17 139.48" stroke="#a2142f" stroke-width="1.5" fill="none"/><path d="M360.4 138.45V145.45M356.9 141.95H363.9M357.93 139.48L362.87 144.42M357.93 144.42L362.87 139.48" stroke="#a2142f" stroke-width="1.5" fill="none"/><path d="M385.1 138.45V145.45M381.6 141.95H388.6M382.63 139.48L387.57 144.42M382.63 144.42L387.57 139.48" stroke="#a2142f" stroke-width="1.5" fill="none"/><polyline points="311,170.09 335.7,160.64 360.4,163.72 385.1,166.1" fill="none" stroke="#00ff00" stroke-width="1.5" stroke-linejoin="round"/><rect x="308.15" y="167.24" width="5.7" height="5.7" fill="none" stroke="#00ff00" stroke-width="1.5"/><rect x="332.85" y="157.79" width="5.7" height="5.7" fill="none" stroke="#00ff00" stroke-width="1.5"/><rect x="357.55" y="160.87" width="5.7" height="5.7" fill="none" stroke="#00ff00" stroke-width="1.5"/><rect x="382.25" y="163.25" width="5.7" height="5.7" fill="none" stroke="#00ff00" stroke-width="1.5"/><polyline points="311,158.75 335.7,154.2 360.4,154.2 385.1,152.38" fill="none" stroke="#edb120" stroke-width="1.5" stroke-linejoin="round"/><path d="M311 153.95L314.6 158.75L311 163.55L307.4 158.75Z" fill="none" stroke="#edb120" stroke-width="1.5"/><path d="M335.7 149.4L339.3 154.2L335.7 159L332.1 154.2Z" fill="none" stroke="#edb120" stroke-width="1.5"/><path d="M360.4 149.4L364 154.2L360.4 159L356.8 154.2Z" fill="none" stroke="#edb120" stroke-width="1.5"/><path d="M385.1 147.58L388.7 152.38L385.1 157.18L381.5 152.38Z" fill="none" stroke="#edb120" stroke-width="1.5"/><polyline points="311,158.26 335.7,154.2 360.4,152.8 385.1,152.38" fill="none" stroke="#40eef0" stroke-width="1.5" stroke-linejoin="round"/><path d="M311 154.36L312.01 157.27L315.09 157.33L312.64 159.19L313.53 162.14L311 160.38L308.47 162.14L309.36 159.19L306.91 157.33L309.99 157.27Z" fill="#40eef0" fill-opacity="0.6" stroke="#40eef0" stroke-width="1.2" stroke-linejoin="miter"/><path d="M335.7 150.3L336.71 153.21L339.79 153.27L337.34 155.13L338.23 158.08L335.7 156.32L333.17 158.08L334.06 155.13L331.61 153.27L334.69 153.21Z" fill="#40eef0" fill-opacity="0.6" stroke="#40eef0" stroke-width="1.2" stroke-linejoin="miter"/><path d="M360.4 148.9L361.41 151.81L364.49 151.87L362.04 153.73L362.93 156.68L360.4 154.92L357.87 156.68L358.76 153.73L356.31 151.87L359.39 151.81Z" fill="#40eef0" fill-opacity="0.6" stroke="#40eef0" stroke-width="1.2" stroke-linejoin="miter"/><path d="M385.1 148.48L386.11 151.39L389.19 151.45L386.74 153.31L387.63 156.26L385.1 154.5L382.57 156.26L383.46 153.31L381.01 151.45L384.09 151.39Z" fill="#40eef0" fill-opacity="0.6" stroke="#40eef0" stroke-width="1.2" stroke-linejoin="miter"/><polyline points="311,163.72 335.7,161.9 360.4,163.02 385.1,163.72" fill="none" stroke="#7e2f8e" stroke-width="1.5" stroke-linejoin="round"/><path d="M306.2 163.72L313.4 159.56L313.4 167.88Z" fill="none" stroke="#7e2f8e" stroke-width="1.5"/><path d="M330.9 161.9L338.1 157.74L338.1 166.06Z" fill="none" stroke="#7e2f8e" stroke-width="1.5"/><path d="M355.6 163.02L362.8 158.86L362.8 167.18Z" fill="none" stroke="#7e2f8e" stroke-width="1.5"/><path d="M380.3 163.72L387.5 159.56L387.5 167.88Z" fill="none" stroke="#7e2f8e" stroke-width="1.5"/></g><g><rect x="443.8" y="133.9" width="74.1" height="70" fill="none" stroke="#8a8a8a" stroke-width="0.9"/><path d="M468.5 203.9v-1M468.5 133.9v1M493.2 203.9v-1M493.2 133.9v1M443.8 168.9h1M517.9 168.9h-1" stroke="#8a8a8a" stroke-width="0.9"/><text x="480.85" y="129.4" font-size="11.3" font-weight="bold" text-anchor="middle" fill="#000">bac,fuz-&gt;rec</text><text transform="translate(421.3 168.9) rotate(-90)" font-size="11.5" text-anchor="middle" fill="#262626">AUC-PR</text><text x="439.6" y="208.8" font-size="10" text-anchor="end" fill="#262626">0</text><text x="439.6" y="173.8" font-size="10" text-anchor="end" fill="#262626">0.5</text><text x="439.6" y="138.8" font-size="10" text-anchor="end" fill="#262626">1</text><text transform="translate(451.8 214.4) rotate(-45)" font-size="10.5" text-anchor="end" fill="#262626">15</text><text transform="translate(476.5 214.4) rotate(-45)" font-size="10.5" text-anchor="end" fill="#262626">30</text><text transform="translate(501.2 214.4) rotate(-45)" font-size="10.5" text-anchor="end" fill="#262626">60</text><text transform="translate(525.9 214.4) rotate(-45)" font-size="10.5" text-anchor="end" fill="#262626">120</text><polyline points="443.8,157.7 468.5,148.6 493.2,143 517.9,142.86" fill="none" stroke="#0000ff" stroke-width="1.5" stroke-linejoin="round"/><circle cx="443.8" cy="157.7" r="3.6" fill="none" stroke="#0000ff" stroke-width="1.5"/><circle cx="468.5" cy="148.6" r="3.6" fill="none" stroke="#0000ff" stroke-width="1.5"/><circle cx="493.2" cy="143" r="3.6" fill="none" stroke="#0000ff" stroke-width="1.5"/><circle cx="517.9" cy="142.86" r="3.6" fill="none" stroke="#0000ff" stroke-width="1.5"/><polyline points="443.8,154.27 468.5,150.42 493.2,147.2 517.9,148.81" fill="none" stroke="#a2142f" stroke-width="1.5" stroke-linejoin="round"/><path d="M443.8 150.77V157.77M440.3 154.27H447.3M441.33 151.8L446.27 156.74M441.33 156.74L446.27 151.8" stroke="#a2142f" stroke-width="1.5" fill="none"/><path d="M468.5 146.92V153.92M465 150.42H472M466.03 147.95L470.97 152.89M466.03 152.89L470.97 147.95" stroke="#a2142f" stroke-width="1.5" fill="none"/><path d="M493.2 143.7V150.7M489.7 147.2H496.7M490.73 144.73L495.67 149.67M490.73 149.67L495.67 144.73" stroke="#a2142f" stroke-width="1.5" fill="none"/><path d="M517.9 145.31V152.31M514.4 148.81H521.4M515.43 146.34L520.37 151.28M515.43 151.28L520.37 146.34" stroke="#a2142f" stroke-width="1.5" fill="none"/><polyline points="443.8,154.55 468.5,149.65 493.2,145.8 517.9,151.75" fill="none" stroke="#00ff00" stroke-width="1.5" stroke-linejoin="round"/><rect x="440.95" y="151.7" width="5.7" height="5.7" fill="none" stroke="#00ff00" stroke-width="1.5"/><rect x="465.65" y="146.8" width="5.7" height="5.7" fill="none" stroke="#00ff00" stroke-width="1.5"/><rect x="490.35" y="142.95" width="5.7" height="5.7" fill="none" stroke="#00ff00" stroke-width="1.5"/><rect x="515.05" y="148.9" width="5.7" height="5.7" fill="none" stroke="#00ff00" stroke-width="1.5"/><polyline points="443.8,164.14 468.5,159.45 493.2,156.58 517.9,158.26" fill="none" stroke="#edb120" stroke-width="1.5" stroke-linejoin="round"/><path d="M443.8 159.34L447.4 164.14L443.8 168.94L440.2 164.14Z" fill="none" stroke="#edb120" stroke-width="1.5"/><path d="M468.5 154.65L472.1 159.45L468.5 164.25L464.9 159.45Z" fill="none" stroke="#edb120" stroke-width="1.5"/><path d="M493.2 151.78L496.8 156.58L493.2 161.38L489.6 156.58Z" fill="none" stroke="#edb120" stroke-width="1.5"/><path d="M517.9 153.46L521.5 158.26L517.9 163.06L514.3 158.26Z" fill="none" stroke="#edb120" stroke-width="1.5"/><polyline points="443.8,162.6 468.5,157.07 493.2,154.69 517.9,153.5" fill="none" stroke="#40eef0" stroke-width="1.5" stroke-linejoin="round"/><path d="M443.8 158.7L444.81 161.61L447.89 161.67L445.44 163.53L446.33 166.48L443.8 164.72L441.27 166.48L442.16 163.53L439.71 161.67L442.79 161.61Z" fill="#40eef0" fill-opacity="0.6" stroke="#40eef0" stroke-width="1.2" stroke-linejoin="miter"/><path d="M468.5 153.17L469.51 156.08L472.59 156.14L470.14 158L471.03 160.95L468.5 159.19L465.97 160.95L466.86 158L464.41 156.14L467.49 156.08Z" fill="#40eef0" fill-opacity="0.6" stroke="#40eef0" stroke-width="1.2" stroke-linejoin="miter"/><path d="M493.2 150.79L494.21 153.7L497.29 153.76L494.84 155.62L495.73 158.57L493.2 156.81L490.67 158.57L491.56 155.62L489.11 153.76L492.19 153.7Z" fill="#40eef0" fill-opacity="0.6" stroke="#40eef0" stroke-width="1.2" stroke-linejoin="miter"/><path d="M517.9 149.6L518.91 152.51L521.99 152.57L519.54 154.43L520.43 157.38L517.9 155.62L515.37 157.38L516.26 154.43L513.81 152.57L516.89 152.51Z" fill="#40eef0" fill-opacity="0.6" stroke="#40eef0" stroke-width="1.2" stroke-linejoin="miter"/><polyline points="443.8,165.75 468.5,165.4 493.2,165.4 517.9,165.75" fill="none" stroke="#7e2f8e" stroke-width="1.5" stroke-linejoin="round"/><path d="M439 165.75L446.2 161.59L446.2 169.91Z" fill="none" stroke="#7e2f8e" stroke-width="1.5"/><path d="M463.7 165.4L470.9 161.24L470.9 169.56Z" fill="none" stroke="#7e2f8e" stroke-width="1.5"/><path d="M488.4 165.4L495.6 161.24L495.6 169.56Z" fill="none" stroke="#7e2f8e" stroke-width="1.5"/><path d="M513.1 165.75L520.3 161.59L520.3 169.91Z" fill="none" stroke="#7e2f8e" stroke-width="1.5"/></g><g><rect x="576.5" y="133.9" width="74.1" height="70" fill="none" stroke="#8a8a8a" stroke-width="0.9"/><path d="M601.2 203.9v-1M601.2 133.9v1M625.9 203.9v-1M625.9 133.9v1M576.5 168.9h1M650.6 168.9h-1" stroke="#8a8a8a" stroke-width="0.9"/><text x="613.55" y="129.4" font-size="11.3" font-weight="bold" text-anchor="middle" fill="#000">dos-&gt;rec</text><text transform="translate(554 168.9) rotate(-90)" font-size="11.5" text-anchor="middle" fill="#262626">AUC-PR</text><text x="572.3" y="208.8" font-size="10" text-anchor="end" fill="#262626">0</text><text x="572.3" y="173.8" font-size="10" text-anchor="end" fill="#262626">0.5</text><text x="572.3" y="138.8" font-size="10" text-anchor="end" fill="#262626">1</text><text transform="translate(584.5 214.4) rotate(-45)" font-size="10.5" text-anchor="end" fill="#262626">15</text><text transform="translate(609.2 214.4) rotate(-45)" font-size="10.5" text-anchor="end" fill="#262626">30</text><text transform="translate(633.9 214.4) rotate(-45)" font-size="10.5" text-anchor="end" fill="#262626">60</text><text transform="translate(658.6 214.4) rotate(-45)" font-size="10.5" text-anchor="end" fill="#262626">120</text><polyline points="576.5,156.3 601.2,150.7 625.9,145.1 650.6,143" fill="none" stroke="#0000ff" stroke-width="1.5" stroke-linejoin="round"/><circle cx="576.5" cy="156.3" r="3.6" fill="none" stroke="#0000ff" stroke-width="1.5"/><circle cx="601.2" cy="150.7" r="3.6" fill="none" stroke="#0000ff" stroke-width="1.5"/><circle cx="625.9" cy="145.1" r="3.6" fill="none" stroke="#0000ff" stroke-width="1.5"/><circle cx="650.6" cy="143" r="3.6" fill="none" stroke="#0000ff" stroke-width="1.5"/><polyline points="576.5,155.6 601.2,152.45 625.9,145.1 650.6,142.65" fill="none" stroke="#a2142f" stroke-width="1.5" stroke-linejoin="round"/><path d="M576.5 152.1V159.1M573 155.6H580M574.03 153.13L578.97 158.07M574.03 158.07L578.97 153.13" stroke="#a2142f" stroke-width="1.5" fill="none"/><path d="M601.2 148.95V155.95M597.7 152.45H604.7M598.73 149.98L603.67 154.92M598.73 154.92L603.67 149.98" stroke="#a2142f" stroke-width="1.5" fill="none"/><path d="M625.9 141.6V148.6M622.4 145.1H629.4M623.43 142.63L628.37 147.57M623.43 147.57L628.37 142.63" stroke="#a2142f" stroke-width="1.5" fill="none"/><path d="M650.6 139.15V146.15M647.1 142.65H654.1M648.13 140.18L653.07 145.12M648.13 145.12L653.07 140.18" stroke="#a2142f" stroke-width="1.5" fill="none"/><polyline points="576.5,160.64 601.2,160.64 625.9,151.89 650.6,158.26" fill="none" stroke="#00ff00" stroke-width="1.5" stroke-linejoin="round"/><rect x="573.65" y="157.79" width="5.7" height="5.7" fill="none" stroke="#00ff00" stroke-width="1.5"/><rect x="598.35" y="157.79" width="5.7" height="5.7" fill="none" stroke="#00ff00" stroke-width="1.5"/><rect x="623.05" y="149.04" width="5.7" height="5.7" fill="none" stroke="#00ff00" stroke-width="1.5"/><rect x="647.75" y="155.41" width="5.7" height="5.7" fill="none" stroke="#00ff00" stroke-width="1.5"/><polyline points="576.5,168.2 601.2,168.55 625.9,161.34 650.6,153.5" fill="none" stroke="#edb120" stroke-width="1.5" stroke-linejoin="round"/><path d="M576.5 163.4L580.1 168.2L576.5 173L572.9 168.2Z" fill="none" stroke="#edb120" stroke-width="1.5"/><path d="M601.2 163.75L604.8 168.55L601.2 173.35L597.6 168.55Z" fill="none" stroke="#edb120" stroke-width="1.5"/><path d="M625.9 156.54L629.5 161.34L625.9 166.14L622.3 161.34Z" fill="none" stroke="#edb120" stroke-width="1.5"/><path d="M650.6 148.7L654.2 153.5L650.6 158.3L647 153.5Z" fill="none" stroke="#edb120" stroke-width="1.5"/><polyline points="576.5,159.8 601.2,159.1 625.9,154.2 650.6,150.35" fill="none" stroke="#40eef0" stroke-width="1.5" stroke-linejoin="round"/><path d="M576.5 155.9L577.51 158.81L580.59 158.87L578.14 160.73L579.03 163.68L576.5 161.92L573.97 163.68L574.86 160.73L572.41 158.87L575.49 158.81Z" fill="#40eef0" fill-opacity="0.6" stroke="#40eef0" stroke-width="1.2" stroke-linejoin="miter"/><path d="M601.2 155.2L602.21 158.11L605.29 158.17L602.84 160.03L603.73 162.98L601.2 161.22L598.67 162.98L599.56 160.03L597.11 158.17L600.19 158.11Z" fill="#40eef0" fill-opacity="0.6" stroke="#40eef0" stroke-width="1.2" stroke-linejoin="miter"/><path d="M625.9 150.3L626.91 153.21L629.99 153.27L627.54 155.13L628.43 158.08L625.9 156.32L623.37 158.08L624.26 155.13L621.81 153.27L624.89 153.21Z" fill="#40eef0" fill-opacity="0.6" stroke="#40eef0" stroke-width="1.2" stroke-linejoin="miter"/><path d="M650.6 146.45L651.61 149.36L654.69 149.42L652.24 151.28L653.13 154.23L650.6 152.47L648.07 154.23L648.96 151.28L646.51 149.42L649.59 149.36Z" fill="#40eef0" fill-opacity="0.6" stroke="#40eef0" stroke-width="1.2" stroke-linejoin="miter"/><polyline points="576.5,157.56 601.2,157.56 625.9,156.58 650.6,156.58" fill="none" stroke="#7e2f8e" stroke-width="1.5" stroke-linejoin="round"/><path d="M571.7 157.56L578.9 153.4L578.9 161.72Z" fill="none" stroke="#7e2f8e" stroke-width="1.5"/><path d="M596.4 157.56L603.6 153.4L603.6 161.72Z" fill="none" stroke="#7e2f8e" stroke-width="1.5"/><path d="M621.1 156.58L628.3 152.42L628.3 160.74Z" fill="none" stroke="#7e2f8e" stroke-width="1.5"/><path d="M645.8 156.58L653 152.42L653 160.74Z" fill="none" stroke="#7e2f8e" stroke-width="1.5"/></g><g><rect x="45.4" y="246.4" width="74.1" height="70" fill="none" stroke="#8a8a8a" stroke-width="0.9"/><path d="M70.1 316.4v-1M70.1 246.4v1M94.8 316.4v-1M94.8 246.4v1M45.4 281.4h1M119.5 281.4h-1" stroke="#8a8a8a" stroke-width="0.9"/><text x="82.45" y="242.4" font-size="11.3" font-weight="bold" text-anchor="middle" fill="#000">dos,bac-&gt;rec</text><text transform="translate(22.9 281.4) rotate(-90)" font-size="11.5" text-anchor="middle" fill="#262626">AUC-PR</text><text x="41.2" y="321.3" font-size="10" text-anchor="end" fill="#262626">0</text><text x="41.2" y="286.3" font-size="10" text-anchor="end" fill="#262626">0.5</text><text x="41.2" y="251.3" font-size="10" text-anchor="end" fill="#262626">1</text><text transform="translate(53.4 326.9) rotate(-45)" font-size="10.5" text-anchor="end" fill="#262626">15</text><text transform="translate(78.1 326.9) rotate(-45)" font-size="10.5" text-anchor="end" fill="#262626">30</text><text transform="translate(102.8 326.9) rotate(-45)" font-size="10.5" text-anchor="end" fill="#262626">60</text><text transform="translate(127.5 326.9) rotate(-45)" font-size="10.5" text-anchor="end" fill="#262626">120</text><polyline points="45.4,274.05 70.1,269.78 94.8,261.8 119.5,260.4" fill="none" stroke="#0000ff" stroke-width="1.5" stroke-linejoin="round"/><circle cx="45.4" cy="274.05" r="3.6" fill="none" stroke="#0000ff" stroke-width="1.5"/><circle cx="70.1" cy="269.78" r="3.6" fill="none" stroke="#0000ff" stroke-width="1.5"/><circle cx="94.8" cy="261.8" r="3.6" fill="none" stroke="#0000ff" stroke-width="1.5"/><circle cx="119.5" cy="260.4" r="3.6" fill="none" stroke="#0000ff" stroke-width="1.5"/><polyline points="45.4,274.05 70.1,270.55 94.8,266 119.5,262.85" fill="none" stroke="#a2142f" stroke-width="1.5" stroke-linejoin="round"/><path d="M45.4 270.55V277.55M41.9 274.05H48.9M42.93 271.58L47.87 276.52M42.93 276.52L47.87 271.58" stroke="#a2142f" stroke-width="1.5" fill="none"/><path d="M70.1 267.05V274.05M66.6 270.55H73.6M67.63 268.08L72.57 273.02M67.63 273.02L72.57 268.08" stroke="#a2142f" stroke-width="1.5" fill="none"/><path d="M94.8 262.5V269.5M91.3 266H98.3M92.33 263.53L97.27 268.47M92.33 268.47L97.27 263.53" stroke="#a2142f" stroke-width="1.5" fill="none"/><path d="M119.5 259.35V266.35M116 262.85H123M117.03 260.38L121.97 265.32M117.03 265.32L121.97 260.38" stroke="#a2142f" stroke-width="1.5" fill="none"/><polyline points="45.4,274.05 70.1,271.25 94.8,268.87 119.5,279.3" fill="none" stroke="#00ff00" stroke-width="1.5" stroke-linejoin="round"/><rect x="42.55" y="271.2" width="5.7" height="5.7" fill="none" stroke="#00ff00" stroke-width="1.5"/><rect x="67.25" y="268.4" width="5.7" height="5.7" fill="none" stroke="#00ff00" stroke-width="1.5"/><rect x="91.95" y="266.02" width="5.7" height="5.7" fill="none" stroke="#00ff00" stroke-width="1.5"/><rect x="116.65" y="276.45" width="5.7" height="5.7" fill="none" stroke="#00ff00" stroke-width="1.5"/><polyline points="45.4,277.62 70.1,278.25 94.8,271.74 119.5,271.74" fill="none" stroke="#edb120" stroke-width="1.5" stroke-linejoin="round"/><path d="M45.4 272.82L49 277.62L45.4 282.42L41.8 277.62Z" fill="none" stroke="#edb120" stroke-width="1.5"/><path d="M70.1 273.45L73.7 278.25L70.1 283.05L66.5 278.25Z" fill="none" stroke="#edb120" stroke-width="1.5"/><path d="M94.8 266.94L98.4 271.74L94.8 276.54L91.2 271.74Z" fill="none" stroke="#edb120" stroke-width="1.5"/><path d="M119.5 266.94L123.1 271.74L119.5 276.54L115.9 271.74Z" fill="none" stroke="#edb120" stroke-width="1.5"/><polyline points="45.4,278.32 70.1,275.24 94.8,271.25 119.5,270.55" fill="none" stroke="#40eef0" stroke-width="1.5" stroke-linejoin="round"/><path d="M45.4 274.42L46.41 277.33L49.49 277.39L47.04 279.25L47.93 282.2L45.4 280.44L42.87 282.2L43.76 279.25L41.31 277.39L44.39 277.33Z" fill="#40eef0" fill-opacity="0.6" stroke="#40eef0" stroke-width="1.2" stroke-linejoin="miter"/><path d="M70.1 271.34L71.11 274.25L74.19 274.31L71.74 276.17L72.63 279.12L70.1 277.36L67.57 279.12L68.46 276.17L66.01 274.31L69.09 274.25Z" fill="#40eef0" fill-opacity="0.6" stroke="#40eef0" stroke-width="1.2" stroke-linejoin="miter"/><path d="M94.8 267.35L95.81 270.26L98.89 270.32L96.44 272.18L97.33 275.13L94.8 273.37L92.27 275.13L93.16 272.18L90.71 270.32L93.79 270.26Z" fill="#40eef0" fill-opacity="0.6" stroke="#40eef0" stroke-width="1.2" stroke-linejoin="miter"/><path d="M119.5 266.65L120.51 269.56L123.59 269.62L121.14 271.48L122.03 274.43L119.5 272.67L116.97 274.43L117.86 271.48L115.41 269.62L118.49 269.56Z" fill="#40eef0" fill-opacity="0.6" stroke="#40eef0" stroke-width="1.2" stroke-linejoin="miter"/><polyline points="45.4,275.24 70.1,275.24 94.8,274.4 119.5,275.94" fill="none" stroke="#7e2f8e" stroke-width="1.5" stroke-linejoin="round"/><path d="M40.6 275.24L47.8 271.08L47.8 279.4Z" fill="none" stroke="#7e2f8e" stroke-width="1.5"/><path d="M65.3 275.24L72.5 271.08L72.5 279.4Z" fill="none" stroke="#7e2f8e" stroke-width="1.5"/><path d="M90 274.4L97.2 270.24L97.2 278.56Z" fill="none" stroke="#7e2f8e" stroke-width="1.5"/><path d="M114.7 275.94L121.9 271.78L121.9 280.1Z" fill="none" stroke="#7e2f8e" stroke-width="1.5"/></g><g><rect x="178.3" y="246.4" width="74.1" height="70" fill="none" stroke="#8a8a8a" stroke-width="0.9"/><path d="M203 316.4v-1M203 246.4v1M227.7 316.4v-1M227.7 246.4v1M178.3 281.4h1M252.4 281.4h-1" stroke="#8a8a8a" stroke-width="0.9"/><text x="215.35" y="242.4" font-size="11.3" font-weight="bold" text-anchor="middle" fill="#000">dos,bac,fuz-&gt;rec</text><text transform="translate(155.8 281.4) rotate(-90)" font-size="11.5" text-anchor="middle" fill="#262626">AUC-PR</text><text x="174.1" y="321.3" font-size="10" text-anchor="end" fill="#262626">0</text><text x="174.1" y="286.3" font-size="10" text-anchor="end" fill="#262626">0.5</text><text x="174.1" y="251.3" font-size="10" text-anchor="end" fill="#262626">1</text><text transform="translate(186.3 326.9) rotate(-45)" font-size="10.5" text-anchor="end" fill="#262626">15</text><text transform="translate(211 326.9) rotate(-45)" font-size="10.5" text-anchor="end" fill="#262626">30</text><text transform="translate(235.7 326.9) rotate(-45)" font-size="10.5" text-anchor="end" fill="#262626">60</text><text transform="translate(260.4 326.9) rotate(-45)" font-size="10.5" text-anchor="end" fill="#262626">120</text><polyline points="178.3,265.79 203,265.79 227.7,265.09 252.4,262.22" fill="none" stroke="#0000ff" stroke-width="1.5" stroke-linejoin="round"/><circle cx="178.3" cy="265.79" r="3.6" fill="none" stroke="#0000ff" stroke-width="1.5"/><circle cx="203" cy="265.79" r="3.6" fill="none" stroke="#0000ff" stroke-width="1.5"/><circle cx="227.7" cy="265.09" r="3.6" fill="none" stroke="#0000ff" stroke-width="1.5"/><circle cx="252.4" cy="262.22" r="3.6" fill="none" stroke="#0000ff" stroke-width="1.5"/><polyline points="178.3,270.55 203,264.11 227.7,265.09 252.4,263.41" fill="none" stroke="#a2142f" stroke-width="1.5" stroke-linejoin="round"/><path d="M178.3 267.05V274.05M174.8 270.55H181.8M175.83 268.08L180.77 273.02M175.83 273.02L180.77 268.08" stroke="#a2142f" stroke-width="1.5" fill="none"/><path d="M203 260.61V267.61M199.5 264.11H206.5M200.53 261.64L205.47 266.58M200.53 266.58L205.47 261.64" stroke="#a2142f" stroke-width="1.5" fill="none"/><path d="M227.7 261.59V268.59M224.2 265.09H231.2M225.23 262.62L230.17 267.56M225.23 267.56L230.17 262.62" stroke="#a2142f" stroke-width="1.5" fill="none"/><path d="M252.4 259.91V266.91M248.9 263.41H255.9M249.93 260.94L254.87 265.88M249.93 265.88L254.87 260.94" stroke="#a2142f" stroke-width="1.5" fill="none"/><polyline points="178.3,283.08 203,277.62 227.7,272.51 252.4,268.87" fill="none" stroke="#00ff00" stroke-width="1.5" stroke-linejoin="round"/><rect x="175.45" y="280.23" width="5.7" height="5.7" fill="none" stroke="#00ff00" stroke-width="1.5"/><rect x="200.15" y="274.77" width="5.7" height="5.7" fill="none" stroke="#00ff00" stroke-width="1.5"/><rect x="224.85" y="269.66" width="5.7" height="5.7" fill="none" stroke="#00ff00" stroke-width="1.5"/><rect x="249.55" y="266.02" width="5.7" height="5.7" fill="none" stroke="#00ff00" stroke-width="1.5"/><polyline points="178.3,283.5 203,281.61 227.7,279.3 252.4,271.74" fill="none" stroke="#edb120" stroke-width="1.5" stroke-linejoin="round"/><path d="M178.3 278.7L181.9 283.5L178.3 288.3L174.7 283.5Z" fill="none" stroke="#edb120" stroke-width="1.5"/><path d="M203 276.81L206.6 281.61L203 286.41L199.4 281.61Z" fill="none" stroke="#edb120" stroke-width="1.5"/><path d="M227.7 274.5L231.3 279.3L227.7 284.1L224.1 279.3Z" fill="none" stroke="#edb120" stroke-width="1.5"/><path d="M252.4 266.94L256 271.74L252.4 276.54L248.8 271.74Z" fill="none" stroke="#edb120" stroke-width="1.5"/><polyline points="178.3,283.08 203,281.19 227.7,275.24 252.4,270.55" fill="none" stroke="#40eef0" stroke-width="1.5" stroke-linejoin="round"/><path d="M178.3 279.18L179.31 282.09L182.39 282.15L179.94 284.01L180.83 286.96L178.3 285.2L175.77 286.96L176.66 284.01L174.21 282.15L177.29 282.09Z" fill="#40eef0" fill-opacity="0.6" stroke="#40eef0" stroke-width="1.2" stroke-linejoin="miter"/><path d="M203 277.29L204.01 280.2L207.09 280.26L204.64 282.12L205.53 285.07L203 283.31L200.47 285.07L201.36 282.12L198.91 280.26L201.99 280.2Z" fill="#40eef0" fill-opacity="0.6" stroke="#40eef0" stroke-width="1.2" stroke-linejoin="miter"/><path d="M227.7 271.34L228.71 274.25L231.79 274.31L229.34 276.17L230.23 279.12L227.7 277.36L225.17 279.12L226.06 276.17L223.61 274.31L226.69 274.25Z" fill="#40eef0" fill-opacity="0.6" stroke="#40eef0" stroke-width="1.2" stroke-linejoin="miter"/><path d="M252.4 266.65L253.41 269.56L256.49 269.62L254.04 271.48L254.93 274.43L252.4 272.67L249.87 274.43L250.76 271.48L248.31 269.62L251.39 269.56Z" fill="#40eef0" fill-opacity="0.6" stroke="#40eef0" stroke-width="1.2" stroke-linejoin="miter"/><polyline points="178.3,285.88 203,287 227.7,284.69 252.4,284.55" fill="none" stroke="#7e2f8e" stroke-width="1.5" stroke-linejoin="round"/><path d="M173.5 285.88L180.7 281.72L180.7 290.04Z" fill="none" stroke="#7e2f8e" stroke-width="1.5"/><path d="M198.2 287L205.4 282.84L205.4 291.16Z" fill="none" stroke="#7e2f8e" stroke-width="1.5"/><path d="M222.9 284.69L230.1 280.53L230.1 288.85Z" fill="none" stroke="#7e2f8e" stroke-width="1.5"/><path d="M247.6 284.55L254.8 280.39L254.8 288.71Z" fill="none" stroke="#7e2f8e" stroke-width="1.5"/></g><g><rect x="311" y="246.4" width="74.1" height="70" fill="none" stroke="#8a8a8a" stroke-width="0.9"/><path d="M335.7 316.4v-1M335.7 246.4v1M360.4 316.4v-1M360.4 246.4v1M311 281.4h1M385.1 281.4h-1" stroke="#8a8a8a" stroke-width="0.9"/><text x="348.05" y="242.4" font-size="11.3" font-weight="bold" text-anchor="middle" fill="#000">dos,fuz-&gt;rec</text><text transform="translate(288.5 281.4) rotate(-90)" font-size="11.5" text-anchor="middle" fill="#262626">AUC-PR</text><text x="306.8" y="321.3" font-size="10" text-anchor="end" fill="#262626">0</text><text x="306.8" y="286.3" font-size="10" text-anchor="end" fill="#262626">0.5</text><text x="306.8" y="251.3" font-size="10" text-anchor="end" fill="#262626">1</text><text transform="translate(319 326.9) rotate(-45)" font-size="10.5" text-anchor="end" fill="#262626">15</text><text transform="translate(343.7 326.9) rotate(-45)" font-size="10.5" text-anchor="end" fill="#262626">30</text><text transform="translate(368.4 326.9) rotate(-45)" font-size="10.5" text-anchor="end" fill="#262626">60</text><text transform="translate(393.1 326.9) rotate(-45)" font-size="10.5" text-anchor="end" fill="#262626">120</text><polyline points="311,278.32 335.7,273.63 360.4,261.1 385.1,259.42" fill="none" stroke="#0000ff" stroke-width="1.5" stroke-linejoin="round"/><circle cx="311" cy="278.32" r="3.6" fill="none" stroke="#0000ff" stroke-width="1.5"/><circle cx="335.7" cy="273.63" r="3.6" fill="none" stroke="#0000ff" stroke-width="1.5"/><circle cx="360.4" cy="261.1" r="3.6" fill="none" stroke="#0000ff" stroke-width="1.5"/><circle cx="385.1" cy="259.42" r="3.6" fill="none" stroke="#0000ff" stroke-width="1.5"/><polyline points="311,278.32 335.7,274.05 360.4,262.22 385.1,261.8" fill="none" stroke="#a2142f" stroke-width="1.5" stroke-linejoin="round"/><path d="M311 274.82V281.82M307.5 278.32H314.5M308.53 275.85L313.47 280.79M308.53 280.79L313.47 275.85" stroke="#a2142f" stroke-width="1.5" fill="none"/><path d="M335.7 270.55V277.55M332.2 274.05H339.2M333.23 271.58L338.17 276.52M333.23 276.52L338.17 271.58" stroke="#a2142f" stroke-width="1.5" fill="none"/><path d="M360.4 258.72V265.72M356.9 262.22H363.9M357.93 259.75L362.87 264.69M357.93 264.69L362.87 259.75" stroke="#a2142f" stroke-width="1.5" fill="none"/><path d="M385.1 258.3V265.3M381.6 261.8H388.6M382.63 259.33L387.57 264.27M382.63 264.27L387.57 259.33" stroke="#a2142f" stroke-width="1.5" fill="none"/><polyline points="311,281.19 335.7,281.61 360.4,271.95 385.1,267.4" fill="none" stroke="#00ff00" stroke-width="1.5" stroke-linejoin="round"/><rect x="308.15" y="278.34" width="5.7" height="5.7" fill="none" stroke="#00ff00" stroke-width="1.5"/><rect x="332.85" y="278.76" width="5.7" height="5.7" fill="none" stroke="#00ff00" stroke-width="1.5"/><rect x="357.55" y="269.1" width="5.7" height="5.7" fill="none" stroke="#00ff00" stroke-width="1.5"/><rect x="382.25" y="264.55" width="5.7" height="5.7" fill="none" stroke="#00ff00" stroke-width="1.5"/><polyline points="311,284.69 335.7,284.69 360.4,272.86 385.1,268.1" fill="none" stroke="#edb120" stroke-width="1.5" stroke-linejoin="round"/><path d="M311 279.89L314.6 284.69L311 289.49L307.4 284.69Z" fill="none" stroke="#edb120" stroke-width="1.5"/><path d="M335.7 279.89L339.3 284.69L335.7 289.49L332.1 284.69Z" fill="none" stroke="#edb120" stroke-width="1.5"/><path d="M360.4 268.06L364 272.86L360.4 277.66L356.8 272.86Z" fill="none" stroke="#edb120" stroke-width="1.5"/><path d="M385.1 263.3L388.7 268.1L385.1 272.9L381.5 268.1Z" fill="none" stroke="#edb120" stroke-width="1.5"/><polyline points="311,280.7 335.7,282.38 360.4,271.6 385.1,264.6" fill="none" stroke="#40eef0" stroke-width="1.5" stroke-linejoin="round"/><path d="M311 276.8L312.01 279.71L315.09 279.77L312.64 281.63L313.53 284.58L311 282.82L308.47 284.58L309.36 281.63L306.91 279.77L309.99 279.71Z" fill="#40eef0" fill-opacity="0.6" stroke="#40eef0" stroke-width="1.2" stroke-linejoin="miter"/><path d="M335.7 278.48L336.71 281.39L339.79 281.45L337.34 283.31L338.23 286.26L335.7 284.5L333.17 286.26L334.06 283.31L331.61 281.45L334.69 281.39Z" fill="#40eef0" fill-opacity="0.6" stroke="#40eef0" stroke-width="1.2" stroke-linejoin="miter"/><path d="M360.4 267.7L361.41 270.61L364.49 270.67L362.04 272.53L362.93 275.48L360.4 273.72L357.87 275.48L358.76 272.53L356.31 270.67L359.39 270.61Z" fill="#40eef0" fill-opacity="0.6" stroke="#40eef0" stroke-width="1.2" stroke-linejoin="miter"/><path d="M385.1 260.7L386.11 263.61L389.19 263.67L386.74 265.53L387.63 268.48L385.1 266.72L382.57 268.48L383.46 265.53L381.01 263.67L384.09 263.61Z" fill="#40eef0" fill-opacity="0.6" stroke="#40eef0" stroke-width="1.2" stroke-linejoin="miter"/><polyline points="311,281.61 335.7,281.19 360.4,278.6 385.1,278.25" fill="none" stroke="#7e2f8e" stroke-width="1.5" stroke-linejoin="round"/><path d="M306.2 281.61L313.4 277.45L313.4 285.77Z" fill="none" stroke="#7e2f8e" stroke-width="1.5"/><path d="M330.9 281.19L338.1 277.03L338.1 285.35Z" fill="none" stroke="#7e2f8e" stroke-width="1.5"/><path d="M355.6 278.6L362.8 274.44L362.8 282.76Z" fill="none" stroke="#7e2f8e" stroke-width="1.5"/><path d="M380.3 278.25L387.5 274.09L387.5 282.41Z" fill="none" stroke="#7e2f8e" stroke-width="1.5"/></g><g><rect x="443.8" y="246.4" width="74.1" height="70" fill="none" stroke="#8a8a8a" stroke-width="0.9"/><path d="M468.5 316.4v-1M468.5 246.4v1M493.2 316.4v-1M493.2 246.4v1M443.8 281.4h1M517.9 281.4h-1" stroke="#8a8a8a" stroke-width="0.9"/><text x="480.85" y="242.4" font-size="11.3" font-weight="bold" text-anchor="middle" fill="#000">fuz-&gt;rec</text><text transform="translate(421.3 281.4) rotate(-90)" font-size="11.5" text-anchor="middle" fill="#262626">AUC-PR</text><text x="439.6" y="321.3" font-size="10" text-anchor="end" fill="#262626">0</text><text x="439.6" y="286.3" font-size="10" text-anchor="end" fill="#262626">0.5</text><text x="439.6" y="251.3" font-size="10" text-anchor="end" fill="#262626">1</text><text transform="translate(451.8 326.9) rotate(-45)" font-size="10.5" text-anchor="end" fill="#262626">15</text><text transform="translate(476.5 326.9) rotate(-45)" font-size="10.5" text-anchor="end" fill="#262626">30</text><text transform="translate(501.2 326.9) rotate(-45)" font-size="10.5" text-anchor="end" fill="#262626">60</text><text transform="translate(525.9 326.9) rotate(-45)" font-size="10.5" text-anchor="end" fill="#262626">120</text><polyline points="443.8,263.2 468.5,262.85 493.2,260.4 517.9,257.95" fill="none" stroke="#0000ff" stroke-width="1.5" stroke-linejoin="round"/><circle cx="443.8" cy="263.2" r="3.6" fill="none" stroke="#0000ff" stroke-width="1.5"/><circle cx="468.5" cy="262.85" r="3.6" fill="none" stroke="#0000ff" stroke-width="1.5"/><circle cx="493.2" cy="260.4" r="3.6" fill="none" stroke="#0000ff" stroke-width="1.5"/><circle cx="517.9" cy="257.95" r="3.6" fill="none" stroke="#0000ff" stroke-width="1.5"/><polyline points="443.8,261.1 468.5,261.8 493.2,266.35 517.9,266" fill="none" stroke="#a2142f" stroke-width="1.5" stroke-linejoin="round"/><path d="M443.8 257.6V264.6M440.3 261.1H447.3M441.33 258.63L446.27 263.57M441.33 263.57L446.27 258.63" stroke="#a2142f" stroke-width="1.5" fill="none"/><path d="M468.5 258.3V265.3M465 261.8H472M466.03 259.33L470.97 264.27M466.03 264.27L470.97 259.33" stroke="#a2142f" stroke-width="1.5" fill="none"/><path d="M493.2 262.85V269.85M489.7 266.35H496.7M490.73 263.88L495.67 268.82M490.73 268.82L495.67 263.88" stroke="#a2142f" stroke-width="1.5" fill="none"/><path d="M517.9 262.5V269.5M514.4 266H521.4M515.43 263.53L520.37 268.47M515.43 268.47L520.37 263.53" stroke="#a2142f" stroke-width="1.5" fill="none"/><polyline points="443.8,261.8 468.5,263.55 493.2,264.25 517.9,261.8" fill="none" stroke="#00ff00" stroke-width="1.5" stroke-linejoin="round"/><rect x="440.95" y="258.95" width="5.7" height="5.7" fill="none" stroke="#00ff00" stroke-width="1.5"/><rect x="465.65" y="260.7" width="5.7" height="5.7" fill="none" stroke="#00ff00" stroke-width="1.5"/><rect x="490.35" y="261.4" width="5.7" height="5.7" fill="none" stroke="#00ff00" stroke-width="1.5"/><rect x="515.05" y="258.95" width="5.7" height="5.7" fill="none" stroke="#00ff00" stroke-width="1.5"/><polyline points="443.8,268.1 468.5,266 493.2,264.25 517.9,262.5" fill="none" stroke="#edb120" stroke-width="1.5" stroke-linejoin="round"/><path d="M443.8 263.3L447.4 268.1L443.8 272.9L440.2 268.1Z" fill="none" stroke="#edb120" stroke-width="1.5"/><path d="M468.5 261.2L472.1 266L468.5 270.8L464.9 266Z" fill="none" stroke="#edb120" stroke-width="1.5"/><path d="M493.2 259.45L496.8 264.25L493.2 269.05L489.6 264.25Z" fill="none" stroke="#edb120" stroke-width="1.5"/><path d="M517.9 257.7L521.5 262.5L517.9 267.3L514.3 262.5Z" fill="none" stroke="#edb120" stroke-width="1.5"/><polyline points="443.8,265.3 468.5,263.9 493.2,262.5 517.9,261.45" fill="none" stroke="#40eef0" stroke-width="1.5" stroke-linejoin="round"/><path d="M443.8 261.4L444.81 264.31L447.89 264.37L445.44 266.23L446.33 269.18L443.8 267.42L441.27 269.18L442.16 266.23L439.71 264.37L442.79 264.31Z" fill="#40eef0" fill-opacity="0.6" stroke="#40eef0" stroke-width="1.2" stroke-linejoin="miter"/><path d="M468.5 260L469.51 262.91L472.59 262.97L470.14 264.83L471.03 267.78L468.5 266.02L465.97 267.78L466.86 264.83L464.41 262.97L467.49 262.91Z" fill="#40eef0" fill-opacity="0.6" stroke="#40eef0" stroke-width="1.2" stroke-linejoin="miter"/><path d="M493.2 258.6L494.21 261.51L497.29 261.57L494.84 263.43L495.73 266.38L493.2 264.62L490.67 266.38L491.56 263.43L489.11 261.57L492.19 261.51Z" fill="#40eef0" fill-opacity="0.6" stroke="#40eef0" stroke-width="1.2" stroke-linejoin="miter"/><path d="M517.9 257.55L518.91 260.46L521.99 260.52L519.54 262.38L520.43 265.33L517.9 263.57L515.37 265.33L516.26 262.38L513.81 260.52L516.89 260.46Z" fill="#40eef0" fill-opacity="0.6" stroke="#40eef0" stroke-width="1.2" stroke-linejoin="miter"/><polyline points="443.8,268.17 468.5,268.87 493.2,269.36 517.9,268.87" fill="none" stroke="#7e2f8e" stroke-width="1.5" stroke-linejoin="round"/><path d="M439 268.17L446.2 264.01L446.2 272.33Z" fill="none" stroke="#7e2f8e" stroke-width="1.5"/><path d="M463.7 268.87L470.9 264.71L470.9 273.03Z" fill="none" stroke="#7e2f8e" stroke-width="1.5"/><path d="M488.4 269.36L495.6 265.2L495.6 273.52Z" fill="none" stroke="#7e2f8e" stroke-width="1.5"/><path d="M513.1 268.87L520.3 264.71L520.3 273.03Z" fill="none" stroke="#7e2f8e" stroke-width="1.5"/></g><rect x="559.4" y="245.5" width="55.1" height="71" fill="#fff" stroke="#8a8a8a" stroke-width="0.9"/><path d="M561.2 251.8H578.3" stroke="#0000ff" stroke-width="1.5"/><circle cx="569.8" cy="251.8" r="3.6" fill="none" stroke="#0000ff" stroke-width="1.5"/><text x="580" y="255.3" font-size="9.2" font-weight="bold" fill="#000">PReNet</text><path d="M561.2 263.44H578.3" stroke="#a2142f" stroke-width="1.5"/><path d="M569.8 259.94V266.94M566.3 263.44H573.3M567.33 260.97L572.27 265.91M567.33 265.91L572.27 260.97" stroke="#a2142f" stroke-width="1.5" fill="none"/><text x="580" y="266.94" font-size="9.2" font-weight="bold" fill="#000">DevNet</text><path d="M561.2 275.08H578.3" stroke="#00ff00" stroke-width="1.5"/><rect x="566.95" y="272.23" width="5.7" height="5.7" fill="none" stroke="#00ff00" stroke-width="1.5"/><text x="580" y="278.58" font-size="9.2" font-weight="bold" fill="#000">DSAD</text><path d="M561.2 286.72H578.3" stroke="#edb120" stroke-width="1.5"/><path d="M569.8 281.92L573.4 286.72L569.8 291.52L566.2 286.72Z" fill="none" stroke="#edb120" stroke-width="1.5"/><text x="580" y="290.22" font-size="9.2" font-weight="bold" fill="#000">FSNet</text><path d="M561.2 298.36H578.3" stroke="#40eef0" stroke-width="1.5"/><path d="M569.8 294.46L570.81 297.37L573.89 297.43L571.44 299.29L572.33 302.24L569.8 300.48L567.27 302.24L568.16 299.29L565.71 297.43L568.79 297.37Z" fill="#40eef0" fill-opacity="0.6" stroke="#40eef0" stroke-width="1.2" stroke-linejoin="miter"/><text x="580" y="301.86" font-size="9.2" font-weight="bold" fill="#000">cFSNet</text><path d="M561.2 310H578.3" stroke="#7e2f8e" stroke-width="1.5"/><path d="M565 310L572.2 305.84L572.2 314.16Z" fill="none" stroke="#7e2f8e" stroke-width="1.5"/><text x="580" y="313.5" font-size="9.2" font-weight="bold" fill="#000">REPEN</text></svg></body></html>
